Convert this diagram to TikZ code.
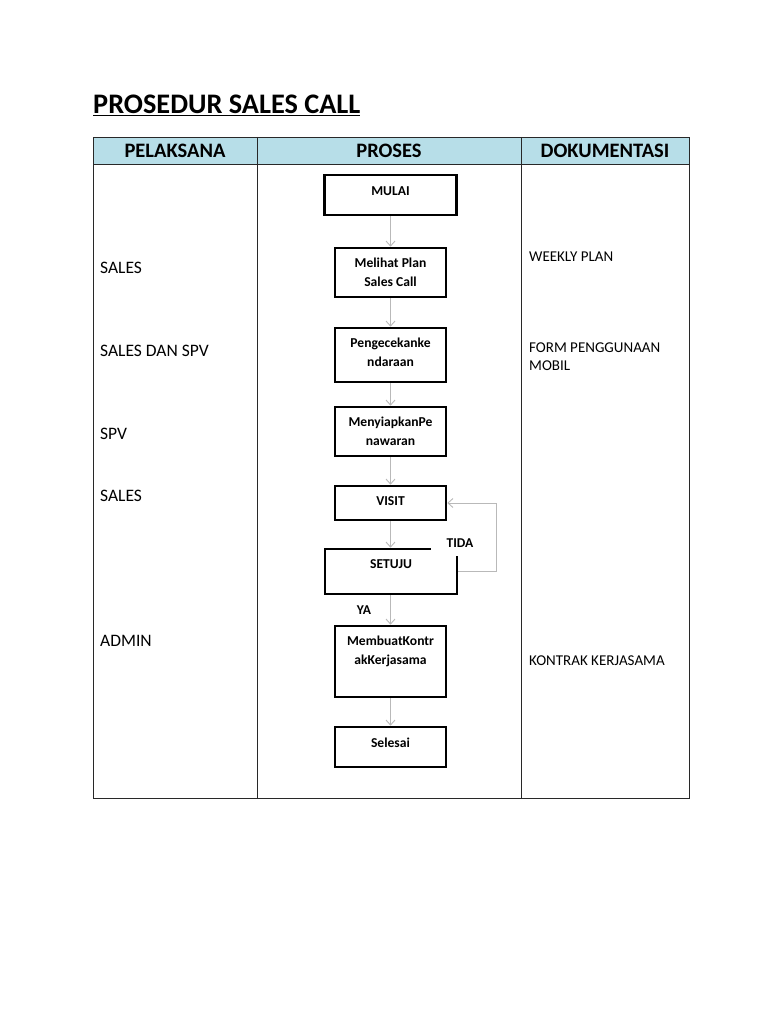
\documentclass[tikz,border=0pt]{standalone}
\usepackage{fontspec}
\setmainfont{Carlito}
\usepackage{xcolor}
\usetikzlibrary{arrows.meta,positioning}
\definecolor{headblue}{RGB}{183,222,232}
\definecolor{arrowgray}{RGB}{185,185,185}
\definecolor{rule}{RGB}{40,40,40}

\begin{document}
\begin{tikzpicture}[x=1pt,y=-1pt,
  procbox/.style={draw,line width=2.6pt,inner sep=0pt},
  boxtext/.style={font=\fontsize{13.6}{19}\selectfont\bfseries,align=center,inner sep=0pt},
  flow/.style={draw=arrowgray,line width=0.9pt,-{Straight Barb[length=5pt,width=9pt]}},
  head/.style={font=\fontsize{20.5}{22}\selectfont\bfseries,inner sep=0pt},
  who/.style={anchor=west,font=\fontsize{17.5}{19}\selectfont,inner sep=0pt},
  doc/.style={anchor=west,font=\fontsize{15}{18}\selectfont,align=left,inner sep=0pt}]
  \useasboundingbox (0,0) rectangle (768,1024);
  \node[anchor=base west,inner sep=0pt,font=\fontsize{28.3}{30}\selectfont\bfseries] (title) at (93,114) {\underline{PROSEDUR SALES CALL}};
  % table
  \fill[headblue] (93,137) rectangle (689,164);
  \draw[rule,line width=0.9pt] (93,137) rectangle (689,798);
  \draw[rule,line width=0.9pt] (93,164) -- (689,164) (257,137) -- (257,798) (521,137) -- (521,798);
  \node[head] (hwho) at (175,151) {PELAKSANA};
  \node[head] (hproc) at (389,151) {PROSES};
  \node[head] (hdoc) at (605,151) {DOKUMENTASI};
  % pelaksana
  \node[who] (w1) at (100,268) {SALES};
  \node[who] (w2) at (100,351) {SALES DAN SPV};
  \node[who] (w3) at (100,434) {SPV};
  \node[who] (w4) at (100,496) {SALES};
  \node[who] (w5) at (100,641) {ADMIN};
  % dokumentasi
  \node[doc] (d1) at (529,257) {WEEKLY PLAN};
  \node[doc,anchor=north west] (d2) at (529,343) {FORM PENGGUNAAN\\MOBIL};
  \node[doc] (d3) at (529,661) {KONTRAK KERJASAMA};
  % proses
  \node[procbox,minimum width=132,minimum height=40,label={[boxtext,anchor=north,yshift=-12.5pt]north:MULAI}] (mulai) at (390.5,195) {};
  \node[procbox,minimum width=111,minimum height=49,label={[boxtext,anchor=north,yshift=-11pt]north:Melihat Plan\\Sales Call}] (plan) at (390.5,272.5) {};
  \node[procbox,minimum width=111,minimum height=54,label={[boxtext,anchor=north,yshift=-11pt]north:Pengecekanke\\ndaraan}] (cek) at (390.5,355) {};
  \node[procbox,minimum width=111,minimum height=49,label={[boxtext,anchor=north,yshift=-11pt]north:MenyiapkanPe\\nawaran}] (siap) at (390.5,431.5) {};
  \node[procbox,minimum width=111,minimum height=34,label={[boxtext,anchor=north,yshift=-12pt]north:VISIT}] (visit) at (390.5,503) {};
  \node[procbox,minimum width=132,minimum height=45,label={[boxtext,anchor=north,yshift=-12pt]north:SETUJU}] (setuju) at (391,571.5) {};
  \node[fill=white,minimum width=58,minimum height=26,inner sep=0pt,font=\fontsize{13.5}{15}\selectfont\bfseries] (tida) at (460,543) {TIDA};
  \node[procbox,minimum width=111,minimum height=71,label={[boxtext,anchor=north,yshift=-11pt]north:MembuatKontr\\akKerjasama}] (kontrak) at (390.5,661.5) {};
  \node[procbox,minimum width=111,minimum height=40,label={[boxtext,anchor=north,yshift=-12pt]north:Selesai}] (selesai) at (390.5,747) {};
  \node[inner sep=0pt,font=\fontsize{13.5}{15}\selectfont\bfseries] (ya) at (364,610) {YA};
  % arrows
  \draw[flow] (mulai.south) -- (plan.north);
  \draw[flow] (plan.south) -- (cek.north);
  \draw[flow] (cek.south) -- (siap.north);
  \draw[flow] (siap.south) -- (visit.north);
  \draw[flow] (visit.south) -- (visit.south |- setuju.north);
  \draw[flow] (visit.south |- setuju.south) -- (kontrak.north);
  \draw[flow] (kontrak.south) -- (selesai.north);
  \draw[flow] (setuju.east) -- ++(38,0) |- (visit.east);
\end{tikzpicture}
\end{document}
